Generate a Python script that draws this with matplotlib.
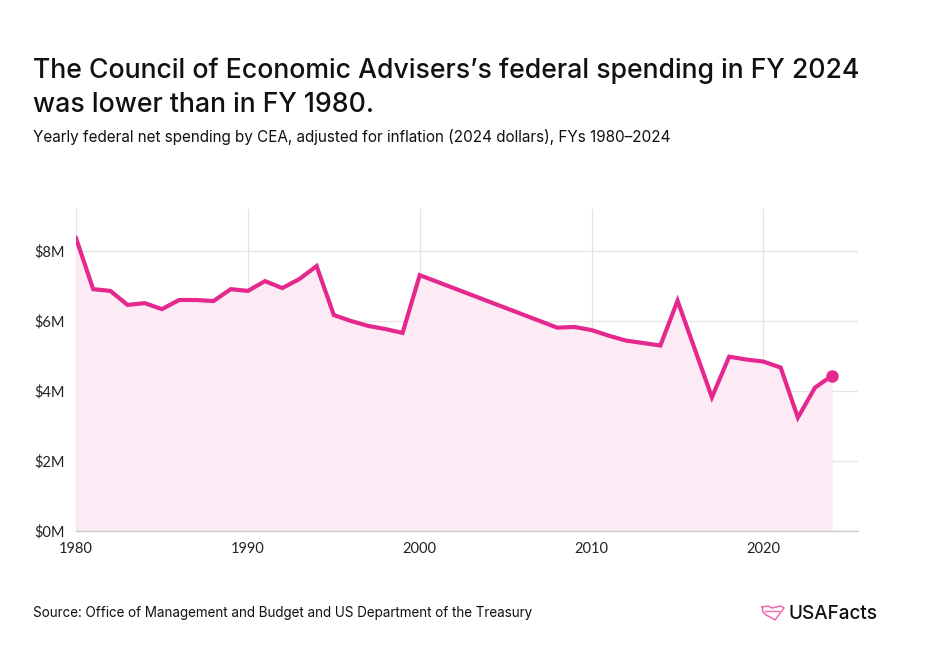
import matplotlib
matplotlib.use("Agg")
import matplotlib.pyplot as plt
from matplotlib.ticker import FuncFormatter

PINK = "#e5288e"; FILL = "#fcebf4"; GRID = "#e6e3e6"; TEXT = "#111111"

years = [1980, 1981, 1982, 1983, 1984, 1985, 1986, 1987, 1988, 1989,
         1990, 1991, 1992, 1993, 1994, 1995, 1996, 1997, 1998, 1999,
         2000, 2008, 2009, 2010, 2011, 2012, 2013, 2014, 2015, 2016,
         2017, 2018, 2019, 2020, 2021, 2022, 2023, 2024]
spending_m = [8.37, 6.91, 6.86, 6.46, 6.51, 6.34, 6.60, 6.60, 6.57, 6.91,
              6.86, 7.14, 6.94, 7.20, 7.57, 6.17, 6.00, 5.86, 5.77, 5.66,
              7.31, 5.81, 5.83, 5.74, 5.58, 5.44, 5.37, 5.30, 6.58, 5.20,
              3.82, 4.98, 4.90, 4.84, 4.67, 3.24, 4.10, 4.44]
x_ticks = [1980, 1990, 2000, 2010, 2020]
y_ticks = [0, 2, 4, 6, 8]

fig = plt.figure(figsize=(9.29, 6.61), dpi=100)
fig.patch.set_facecolor("white")
ax = fig.add_axes([0.0818, 0.1967, 0.8418, 0.4871])

ax.fill_between(years, spending_m, 0, color=FILL, lw=0, zorder=1)
ax.plot(years, spending_m, color=PINK, lw=3, solid_joinstyle="miter", zorder=3)
ax.plot(years[-1], spending_m[-1], "o", color=PINK, ms=8, zorder=4)

ax.set_xlim(1980, 2025.5)
ax.set_ylim(0, 9.2)
ax.set_xticks(x_ticks)
ax.set_yticks(y_ticks)
ax.yaxis.set_major_formatter(FuncFormatter(lambda v, p: f"${v:.0f}M"))
ax.grid(True, color=GRID, lw=0.9, zorder=0)
ax.set_axisbelow(True)
for s in ["top", "right", "left"]:
    ax.spines[s].set_visible(False)
ax.spines["bottom"].set_color("#cfcbcf")
ax.spines["bottom"].set_linewidth(1)
ax.tick_params(length=0, labelsize=10.5, colors="#222222", pad=8)
for lab in ax.get_xticklabels() + ax.get_yticklabels():
    lab.set_fontfamily("Lato")

fig.text(33 / 929, 1 - 78 / 661, "The Council of Economic Advisers\u2019s federal spending in FY 2024",
         fontsize=19.2, fontfamily="Inter", fontweight="medium", color=TEXT, va="baseline")
fig.text(33 / 929, 1 - 112 / 661, "was lower than in FY 1980.",
         fontsize=19.2, fontfamily="Inter", fontweight="medium", color=TEXT, va="baseline")
fig.text(33 / 929, 1 - 142 / 661,
         "Yearly federal net spending by CEA, adjusted for inflation (2024 dollars), FYs 1980\u20132024",
         fontsize=11, fontfamily="Inter", color=TEXT, va="baseline")
fig.text(33 / 929, 1 - 617 / 661,
         "Source: Office of Management and Budget and US Department of the Treasury",
         fontsize=9.7, fontfamily="Inter", color=TEXT, va="baseline")

# logo: rough pink map outline + wordmark
lx = [762, 768, 772, 776, 781, 784, 781, 778, 775, 770, 766, 763, 762]
ly = [607, 606, 608, 607, 606, 608, 612, 616, 620, 617, 615, 612, 607]
fig.add_artist(plt.Line2D([v / 929 for v in lx], [1 - v / 661 for v in ly],
                          color="#f06aae", lw=1.1, transform=fig.transFigure))
fig.add_artist(plt.Line2D([765 / 929, 779 / 929], [1 - 611 / 661, 1 - 611 / 661],
                          color="#f06aae", lw=1.0, transform=fig.transFigure))
fig.text(789 / 929, 1 - 619 / 661, "USAFacts", fontsize=13.6, fontfamily="Inter",
         fontweight="medium", color=TEXT, va="baseline")

fig.savefig("out.png", dpi=100, facecolor="white")
